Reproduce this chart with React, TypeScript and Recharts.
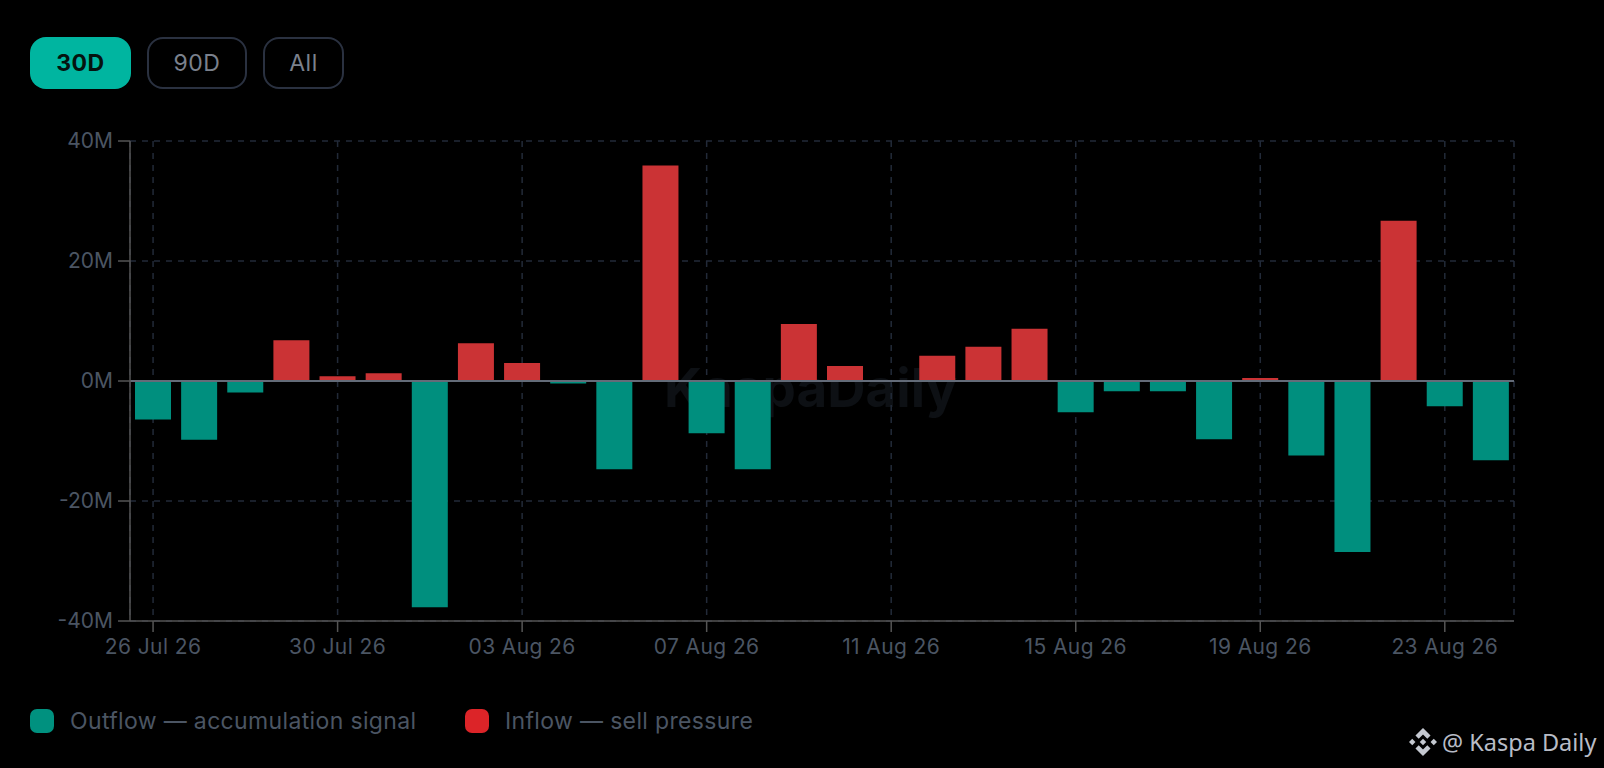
import { BarChart, Bar, XAxis, YAxis, CartesianGrid, ReferenceLine } from "recharts";

const FONT = "Inter, sans-serif";

const dates = [
  "26 Jul 26", "27 Jul 26", "28 Jul 26", "29 Jul 26", "30 Jul 26", "31 Jul 26",
  "01 Aug 26", "02 Aug 26", "03 Aug 26", "04 Aug 26", "05 Aug 26", "06 Aug 26",
  "07 Aug 26", "08 Aug 26", "09 Aug 26", "10 Aug 26", "11 Aug 26", "12 Aug 26",
  "13 Aug 26", "14 Aug 26", "15 Aug 26", "16 Aug 26", "17 Aug 26", "18 Aug 26",
  "19 Aug 26", "20 Aug 26", "21 Aug 26", "22 Aug 26", "23 Aug 26", "24 Aug 26",
];

// net flow, millions
const netFlow = [
  -6.4, -9.8, -1.9, 6.8, 0.8, 1.3, -37.7, 6.3, 3.0, -0.4, -14.7, 35.9, -8.7, -14.7, 9.5,
  2.5, 0.1, 4.2, 5.7, 8.7, -5.2, -1.7, -1.7, -9.7, 0.5, -12.4, -28.5, 26.7, -4.2, -13.2,
];

const yTicks = [-40, -20, 0, 20, 40];
const ranges = ["30D", "90D", "All"];

const data = dates.map((date, i) => ({
  date,
  outflow: netFlow[i] < 0 ? netFlow[i] : 0,
  inflow: netFlow[i] > 0 ? netFlow[i] : 0,
}));

const xTickStyle = { fontSize: 21, fill: "#4b5563", fontFamily: FONT, letterSpacing: 0.4 };
const yTickStyle = { fontSize: 21, fill: "#4b5563", fontFamily: FONT };
const GRID = "#222a38";

function RangeButtons() {
  return (
    <div style={{ position: "absolute", left: 30, top: 37, display: "flex", gap: 16 }}>
      {ranges.map((r, i) => (
        <div
          key={r}
          style={{
            boxSizing: "border-box",
            height: 52,
            width: i === 0 ? 101 : i === 1 ? 100 : 81,
            borderRadius: 16,
            border: i === 0 ? "none" : "2px solid #2a3140",
            background: i === 0 ? "#00b5a0" : "transparent",
            color: i === 0 ? "#05130f" : "#7b818d",
            fontWeight: i === 0 ? 700 : 400,
            fontSize: 23,
            letterSpacing: 0.5,
            fontFamily: FONT,
            display: "flex",
            alignItems: "center",
            justifyContent: "center",
          }}
        >
          {r}
        </div>
      ))}
    </div>
  );
}

function LegendRow() {
  const item = (color: string, label: string, left: number) => (
    <div style={{ position: "absolute", left, top: 709, display: "flex", alignItems: "center", height: 24 }}>
      <span style={{ width: 24, height: 24, borderRadius: 7, background: color, marginRight: 16 }} />
      <span style={{ fontFamily: FONT, fontSize: 23, letterSpacing: 0.35, color: "#4b5563", whiteSpace: "nowrap" }}>{label}</span>
    </div>
  );
  return (
    <>
      {item("#00917f", "Outflow — accumulation signal", 30)}
      {item("#dc2428", "Inflow — sell pressure", 465)}
    </>
  );
}

function Signature() {
  return (
    <div style={{ position: "absolute", left: 1409, top: 728, display: "flex", alignItems: "center", height: 28 }}>
      <svg width={28} height={28} viewBox="1 1 26 26" fill="#c4c8d0" style={{ marginRight: 5 }}>
        <polygon points="14,1 21,8 18,11 14,7 10,11 7,8" />
        <polygon points="14,27 7,20 10,17 14,21 18,17 21,20" />
        <polygon points="4,11 7,14 4,17 1,14" />
        <polygon points="24,11 27,14 24,17 21,14" />
        <polygon points="14,11 17,14 14,17 11,14" />
      </svg>
      <span style={{ fontFamily: "'Noto Sans', sans-serif", fontSize: 23.5, color: "#b8bcc6", whiteSpace: "nowrap" }}>@ Kaspa Daily</span>
    </div>
  );
}

export default function App() {
  return (
    <div style={{ position: "absolute", left: 0, top: 0, width: 1604, height: 768, background: "#000", overflow: "hidden" }}>
      <RangeButtons />
      <div
        style={{
          position: "absolute",
          left: 664,
          top: 358,
          fontFamily: FONT,
          fontWeight: 700,
          fontSize: 53,
          lineHeight: "60px",
          color: "#0d1014",
          whiteSpace: "nowrap",
        }}
      >
        KaspaDaily
      </div>
      <div style={{ position: "absolute", left: 0, top: 0 }}>
        <BarChart
          width={1604}
          height={768}
          data={data}
          stackOffset="sign"
          barSize={36}
          margin={{ top: 141, right: 90, bottom: 107, left: 0 }}
        >
          <CartesianGrid strokeDasharray="6 6" stroke={GRID} strokeWidth={1.5} />
          <XAxis
            dataKey="date"
            interval={3}
            height={40}
            tick={xTickStyle}
            tickSize={11}
            tickMargin={7}
            axisLine={{ stroke: "#555", strokeWidth: 1.5 }}
            tickLine={{ stroke: "#555", strokeWidth: 1.5 }}
          />
          <YAxis
            width={130}
            domain={[-40, 40]}
            ticks={yTicks}
            tickFormatter={(v: number) => `${v}M`}
            tick={yTickStyle}
            tickSize={12}
            tickMargin={5}
            axisLine={{ stroke: "#555", strokeWidth: 1.5 }}
            tickLine={{ stroke: "#555", strokeWidth: 1.5 }}
          />
          <YAxis
            yAxisId="edge"
            orientation="right"
            width={0}
            domain={[-40, 40]}
            tick={false}
            tickLine={false}
            axisLine={{ stroke: GRID, strokeWidth: 1.5, strokeDasharray: "6 6" }}
          />
          <Bar dataKey="outflow" stackId="flow" fill="#008f7e" isAnimationActive={false} />
          <Bar dataKey="inflow" stackId="flow" fill="#cb3335" isAnimationActive={false} />
          <ReferenceLine y={0} stroke="#636b78" strokeWidth={2} />
        </BarChart>
      </div>
      <LegendRow />
      <Signature />
    </div>
  );
}
